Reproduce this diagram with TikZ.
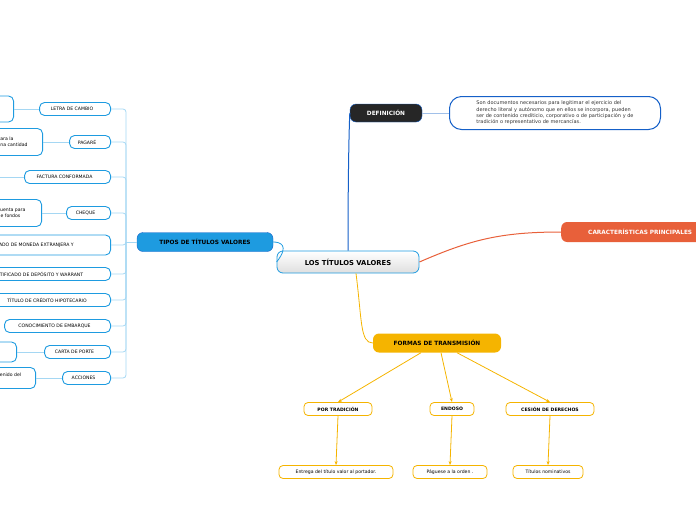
\documentclass[tikz,border=0pt]{standalone}
\usepackage{fontspec}
\setmainfont{DejaVu Sans}
\usetikzlibrary{arrows.meta}
\definecolor{lb}{HTML}{1E9BE0}
\definecolor{db}{HTML}{1560C8}
\definecolor{og}{HTML}{F5B400}
\definecolor{rd}{HTML}{E8603A}
\tikzset{
 leaf/.style={draw=lb,line width=0.9pt,rounded corners=5pt,fill=white,font=\fontsize{4.6}{5.6}\selectfont,inner sep=0pt,minimum height=13pt,align=left},
 oleaf/.style={draw=og,line width=0.8pt,rounded corners=4pt,fill=white,font=\fontsize{4.6}{5.6}\selectfont,inner sep=0pt,minimum height=13pt},
 main/.style={rounded corners=6pt,inner sep=0pt,minimum height=19pt,font=\bfseries\fontsize{5.8}{7}\selectfont},
 bl/.style={lb!40,line width=0.8pt},
 ol/.style={og,line width=0.8pt},
}
\begin{document}
\begin{tikzpicture}[x=1pt,y=-1pt]
\useasboundingbox (0,0) rectangle (696,520);
\clip (0,0) rectangle (696,520);
% central
\node[main,draw=lb,line width=0.8pt,top color=white,bottom color=gray!25,minimum width=142pt,minimum height=22pt,font=\bfseries\fontsize{6.8}{8}\selectfont] (c) at (348,262) {LOS TÍTULOS VALORES};
\node[main,fill=black!85,draw=db,text=white,minimum width=72pt,minimum height=18pt] (def) at (386,113) {DEFINICIÓN};
\node[draw=db,line width=1pt,rounded corners=12pt,minimum width=211pt,minimum height=33pt,font=\fontsize{5}{6.4}\selectfont,align=left,text=black!80] (dt) at (555,113) {Son documentos necesarios para legitimar el ejercicio del\\derecho literal y autónomo que en ellos se incorpora, pueden\\ser de contenido crediticio, corporativo o de participación y de\\tradición o representativo de mercancías.};
\node[main,fill=rd,text=white,minimum width=150pt,minimum height=20pt,anchor=west] (car) at (561,232) {\hspace*{8pt}CARACTERÍSTICAS PRINCIPALES\hfill};
\node[main,fill=lb,draw=db,minimum width=136pt] (tip) at (205,242) {TIPOS DE TÍTULOS VALORES};
\node[main,fill=og,minimum width=128pt] (for) at (437,343) {FORMAS DE TRANSMISIÓN};
% connectors main
\draw[db,line width=1pt] (c.north) .. controls (348,180) and (349,130) .. (def.west);
\draw[db!40,line width=0.8pt] (def.east) -- (dt.west);
\draw[rd,line width=1pt] (c.east) .. controls (470,240) and (500,232) .. (car.west);
\draw[lb,line width=0.8pt] (c.west) .. controls (290,245) and (280,242) .. (tip.east);
\draw[og,line width=0.8pt] ([xshift=8pt]c.south) .. controls (362,320) and (360,343) .. (for.west);
% transmision
\node[oleaf,minimum width=68pt,font=\bfseries\fontsize{4.6}{5.6}\selectfont] (t1) at (338,409) {POR TRADICIÓN};
\node[oleaf,minimum width=44pt,font=\bfseries\fontsize{4.6}{5.6}\selectfont] (t2) at (452,409) {ENDOSO};
\node[oleaf,minimum width=88pt,font=\bfseries\fontsize{4.6}{5.6}\selectfont] (t3) at (550,409) {CESIÓN DE DERECHOS};
\node[oleaf,minimum width=114pt] (l1) at (336,472) {Entrega del título valor al portador.};
\node[oleaf,minimum width=74pt] (l2) at (450,472) {Páguese a la orden .};
\node[oleaf,minimum width=70pt] (l3) at (548,472) {Títulos nominativos};
\draw[ol,-{Stealth[length=4pt]}] ([xshift=-16pt]for.south) -- (t1.north);
\draw[ol,-{Stealth[length=4pt]}] ([xshift=4pt]for.south) -- (t2.north);
\draw[ol,-{Stealth[length=4pt]}] ([xshift=20pt]for.south) -- (t3.north);
\draw[ol,-{Stealth[length=4pt]}] (t1.south) -- (l1.north);
\draw[ol,-{Stealth[length=4pt]}] (t2.south) -- (l2.north);
\draw[ol,-{Stealth[length=4pt]}] (t3.south) -- (l3.north);
% left list
\coordinate (tr) at (126,242);
\draw[bl] (tip.west) -- (tr);
\foreach \n/\l/\y/\t in {a/40/109/LETRA DE CAMBIO, b/70/142/PAGARÉ, c/25/177/FACTURA CONFORMADA, d/67/213/CHEQUE, f/-30/274/CERTIFICADO DE DEPÓSITO Y WARRANT, g/-10/300/TÍTULO DE CRÉDITO HIPOTECARIO, h/5/326/CONOCIMIENTO DE EMBARQUE, i/45/352/CARTA DE PORTE, j/63/378/ACCIONES}{
 \node[leaf,minimum width={111-\l},anchor=east,align=right] (it\n) at (111,\y) {\t\hspace*{6pt}};
 \draw[bl,rounded corners=3pt] (it\n.east) -- (120,\y) -- (126,\y) -- (tr);
}
\node[leaf,minimum height=20pt,minimum width=200pt,anchor=east] (ite) at (111,245) {};
\node[font=\fontsize{4.6}{5.6}\selectfont,inner sep=0pt,anchor=east] (itet) at (74,245) {CERTIFICADO DE MONEDA EXTRANJERA Y};
\draw[bl,rounded corners=3pt] (ite.east) -- (120,245) -- (126,245) -- (tr);
% cropped left children
\node[leaf,minimum height=26pt,minimum width=60pt,anchor=east] (x1) at (14,109) {};
\node[leaf,minimum height=27pt,minimum width=100pt,anchor=east,align=left] (x2) at (43,142) {\hspace*{40pt}para la\\\hspace*{40pt}una cantidad};
\node[leaf,minimum height=27pt,minimum width=100pt,anchor=east,align=left] (x4) at (42,213) {\hspace*{40pt}cuenta para\\\hspace*{40pt}de fondos};
\node[leaf,minimum height=20pt,minimum width=60pt,anchor=east] (x9) at (17,352) {};
\node[leaf,minimum height=21pt,minimum width=100pt,anchor=east,align=left] (x10) at (36,378) {\hspace*{40pt}contenido del\\};
\draw[bl] (x1.east) -- (ita.west);
\draw[bl] (x2.east) -- (itb.west);
\draw[bl] (-5,177) -- (itc.west);
\draw[bl] (x4.east) -- (itd.west);
\draw[bl] (x9.east) -- (iti.west);
\draw[bl] (x10.east) -- (itj.west);
\end{tikzpicture}
\end{document}
